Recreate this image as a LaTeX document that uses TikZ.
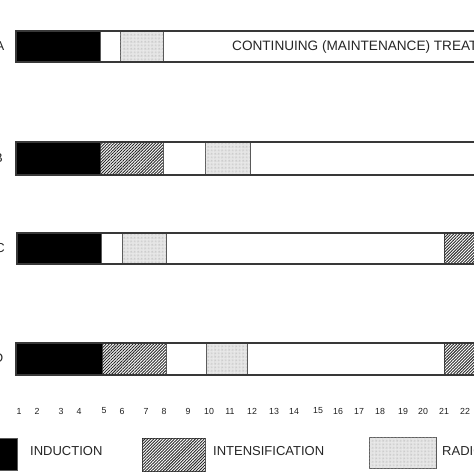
\documentclass[tikz,border=0pt]{standalone}
\usepackage{fontspec}
\setmainfont{Liberation Sans}
\usetikzlibrary{patterns,patterns.meta}
\begin{document}
\begin{tikzpicture}[x=1pt,y=-1pt,
  outl/.style={draw=black!78,line width=1.1pt},
  seg/.style={draw=black!65,line width=0.7pt},
  ind/.style={seg,fill=black},
  intens/.style={seg,fill=white,postaction={pattern={Lines[angle=45,distance=2.1pt,line width=0.9pt]},pattern color=black!85}},
  rad/.style={seg,fill=black!8,postaction={pattern={Dots[radius=0.3pt,distance=1.4pt]},pattern color=black!35}},
  blank/.style={seg,fill=white},
  lab/.style={font=\fontsize{13}{13}\selectfont,inner sep=0pt,text=black!85},
  num/.style={font=\fontsize{8.8}{9}\selectfont,inner sep=0pt,text=black!88}]
\useasboundingbox (0,0) rectangle (474,474);
\fill[white] (0,0) rectangle (474,474);
\clip (0,0) rectangle (474,474);

% Row labels (cut at the left edge, as in the reference)
\node[lab,anchor=east] (labA) at (4.5,46.5) {A};
\node[lab,anchor=east] (labB) at (3,158.5) {B};
\node[lab,anchor=east] (labC) at (5,248.5) {C};
\node[lab,anchor=east] (labD) at (3.5,358) {D};

% Row A
\path[ind] (16,31) rectangle (100,62);
\path[blank] (100,31) rectangle (120,62);
\path[rad] (120,31) rectangle (163,62);
\path[blank] (163,31) rectangle (480,62);
\draw[outl] (16,31) rectangle (480,62);
\node[lab,anchor=west,font=\fontsize{13.6}{14}\selectfont] (cont) at (232,46.5) {CONTINUING (MAINTENANCE) TREATMENT};

% Row B
\path[ind] (16,142) rectangle (100,175);
\path[intens] (100,142) rectangle (163,175);
\path[blank] (163,142) rectangle (205,175);
\path[rad] (205,142) rectangle (250,175);
\path[blank] (250,142) rectangle (480,175);
\draw[outl] (16,142) rectangle (480,175);

% Row C
\path[ind] (17,233) rectangle (101,264);
\path[blank] (101,233) rectangle (122,264);
\path[rad] (122,233) rectangle (166,264);
\path[blank] (166,233) rectangle (444,264);
\path[intens] (444,233) rectangle (480,264);
\draw[outl] (17,233) rectangle (480,264);

% Row D
\path[ind] (16,343) rectangle (102,375);
\path[intens] (102,343) rectangle (166,375);
\path[blank] (166,343) rectangle (206,375);
\path[rad] (206,343) rectangle (247,375);
\path[blank] (247,343) rectangle (444,375);
\path[intens] (444,343) rectangle (480,375);
\draw[outl] (16,343) rectangle (480,375);

% Week numbers
\foreach \xx/\n in {19/1,37/2,61/3,79/4,104/5,122/6,146/7,164/8,188/9,209/10,230/11,252/12,274/13,294/14,318/15,338/16,359/17,380/18,403/19,423/20,444/21,465/22}
  \node[num] (n\n) at (\xx,411) {\n};

% Legend
\path[ind] (-48,438) rectangle (17,470);
\node[lab,anchor=west] (lind) at (30,451.5) {INDUCTION};
\path[intens] (142,438) rectangle (205,471);
\node[lab,anchor=west] (lint) at (213,451.5) {INTENSIFICATION};
\path[rad] (369,437) rectangle (436,468);
\node[lab,anchor=west] (lrad) at (442,451.5) {RADIOTHERAPY};
\end{tikzpicture}
\end{document}
